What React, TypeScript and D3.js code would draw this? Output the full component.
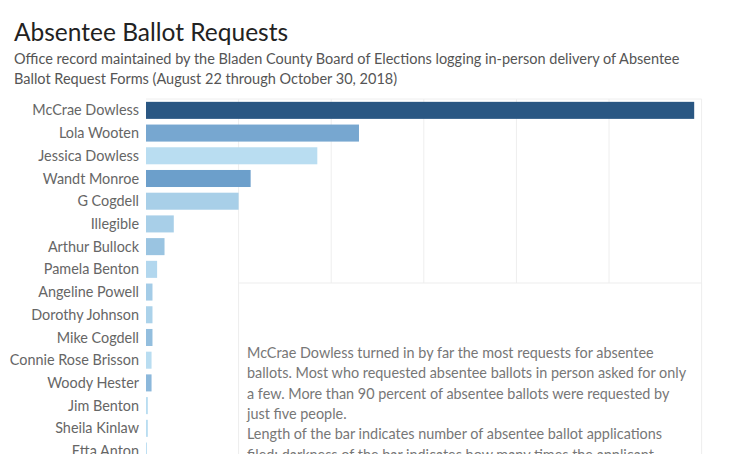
import React, { useRef, useEffect } from "react";
import * as d3 from "d3";

// Applicants, in the order shown
const names = [
  "McCrae Dowless",
  "Lola Wooten",
  "Jessica Dowless",
  "Wandt Monroe",
  "G Cogdell",
  "Illegible",
  "Arthur Bullock",
  "Pamela Benton",
  "Angeline Powell",
  "Dorothy Johnson",
  "Mike Cogdell",
  "Connie Rose Brisson",
  "Woody Hester",
  "Jim Benton",
  "Sheila Kinlaw",
  "Etta Anton",
];

// Number of absentee ballot request forms turned in
const requests = [592, 230, 185, 113, 100, 30, 20, 12, 7, 7, 7, 6, 6, 2, 2, 1];

// How many times the applicant came in (drives the bar darkness)
const visits = [45, 20, 1, 23, 6, 6, 10, 3, 7, 5, 12, 1, 14, 1, 1, 1];

const gridTicks = [100, 200, 300, 400, 500, 600];

const noteLines = [
  "McCrae Dowless turned in by far the most requests for absentee",
  "ballots. Most who requested absentee ballots in person asked for only",
  "a few. More than 90 percent of absentee ballots were requested by",
  "just five people.",
  "Length of the bar indicates number of absentee ballot applications",
  "filed; darkness of the bar indicates how many times the applicant",
];

const W = 736;
const H = 454;
const FONT = "Lato, 'Open Sans', sans-serif";

const App: React.FC = () => {
  const chartRef = useRef<SVGSVGElement>(null);

  useEffect(() => {
    document.body.style.margin = "0";
    document.body.style.overflow = "hidden";
    if (!chartRef.current) return;

    const svg = d3.select(chartRef.current);
    svg.selectAll("*").remove();

    svg.append("rect").attr("width", W).attr("height", H).attr("fill", "#fff");

    // Title + subtitle
    svg
      .append("text")
      .attr("x", 14)
      .attr("y", 41)
      .attr("font-family", FONT)
      .attr("font-size", 24.5)
      .attr("fill", "#222")
      .text("Absentee Ballot Requests");

    const sub = [
      "Office record maintained by the Bladen County Board of Elections logging in-person delivery of Absentee",
      "Ballot Request Forms (August 22 through October 30, 2018)",
    ];
    svg
      .append("g")
      .selectAll("text")
      .data(sub)
      .enter()
      .append("text")
      .attr("x", 14)
      .attr("y", (_, i) => 64 + i * 20)
      .attr("font-family", FONT)
      .attr("font-size", 14.5)
      .attr("fill", "#555")
      .text((d) => d);

    // Scales
    const x = d3.scaleLinear().domain([0, 600]).range([146, 701.6]);
    const y = d3
      .scaleBand()
      .domain(names)
      .range([99, 462.4])
      .paddingInner(0.25)
      .paddingOuter(0.125);
    const color = d3
      .scaleLinear<string>()
      .domain([1, 23, 45])
      .range(["#b9ddf1", "#6c9fcb", "#2a5783"]);

    const data = names.map((n, i) => ({ name: n, value: requests[i], visits: visits[i] }));

    // Gridlines
    const top = 99;
    svg
      .append("line")
      .attr("x1", x(0))
      .attr("x2", x(600))
      .attr("y1", top)
      .attr("y2", top)
      .attr("stroke", "#eeeeee");
    svg
      .append("g")
      .selectAll("line")
      .data(gridTicks)
      .enter()
      .append("line")
      .attr("x1", (d) => x(d))
      .attr("x2", (d) => x(d))
      .attr("y1", top)
      .attr("y2", H)
      .attr("stroke", "#eeeeee");

    // Bars
    svg
      .append("g")
      .selectAll("rect")
      .data(data)
      .enter()
      .append("rect")
      .attr("x", x(0))
      .attr("y", (d) => y(d.name) || 0)
      .attr("width", (d) => x(d.value) - x(0))
      .attr("height", y.bandwidth())
      .attr("fill", (d) => color(d.visits));

    // Row labels
    svg
      .append("g")
      .selectAll("text")
      .data(data)
      .enter()
      .append("text")
      .attr("x", 139)
      .attr("y", (d) => (y(d.name) || 0) + y.bandwidth() / 2)
      .attr("dy", "0.35em")
      .attr("text-anchor", "end")
      .attr("font-family", FONT)
      .attr("font-size", 14.4)
      .attr("fill", "#666")
      .text((d) => d.name);

    // Annotation box
    svg
      .append("rect")
      .attr("x", x(100))
      .attr("y", 283)
      .attr("width", x(600) - x(100))
      .attr("height", 200)
      .attr("fill", "#fff")
      .attr("stroke", "#eeeeee");

    svg
      .append("g")
      .selectAll("text")
      .data(noteLines)
      .enter()
      .append("text")
      .attr("x", 247)
      .attr("y", (_, i) => 358 + i * 20.3)
      .attr("font-family", FONT)
      .attr("font-size", 14.4)
      .attr("fill", "#777")
      .text((d) => d);
  }, []);

  return <svg ref={chartRef} width={W} height={H} style={{ display: "block" }}></svg>;
};

export default App;
